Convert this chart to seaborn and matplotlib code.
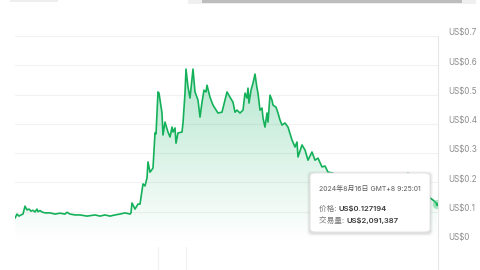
import numpy as np
import pandas as pd
import matplotlib
matplotlib.use("Agg")
import matplotlib.pyplot as plt
import seaborn as sns
from matplotlib.patches import FancyBboxPatch, Rectangle
from matplotlib.lines import Line2D
from matplotlib.transforms import ScaledTranslation
from matplotlib.colors import LinearSegmentedColormap

# ---- data (time index, price in US$) ----
t = [0, 2, 4, 6, 8, 10, 12, 14, 16, 18,
     20, 22, 23, 25, 27, 30, 35, 40, 45, 50,
     52, 55, 60, 65, 72, 80, 85, 90, 95, 100,
     105, 110, 115, 116, 117, 120, 123, 125, 128, 130,
     132, 133, 135, 138, 140, 141, 143, 144, 147, 148,
     150, 153, 155, 157, 158, 160, 161, 163, 167, 168,
     170, 171, 173, 175, 178, 180, 183, 185, 187, 189,
     191, 192, 195, 198, 203, 207, 212, 215, 218, 220,
     222, 225, 228, 230, 232, 233, 234, 236, 238, 240,
     242, 243, 245, 247, 248, 250, 252, 253, 255, 257,
     258, 261, 263, 265, 267, 270, 273, 277, 280, 282,
     283, 287, 290, 293, 297, 300, 303, 307, 310, 313,
     318, 323, 328, 333, 338, 343, 348, 353, 358, 363,
     368, 373, 378, 383, 388, 393, 397, 402, 407, 411,
     415, 418, 422]
price = [0.078, 0.092, 0.085, 0.089, 0.092, 0.119, 0.106, 0.109, 0.102, 0.105,
         0.099, 0.109, 0.100, 0.104, 0.099, 0.096, 0.096, 0.092, 0.095, 0.092,
         0.098, 0.092, 0.089, 0.089, 0.085, 0.089, 0.085, 0.089, 0.085, 0.089,
         0.092, 0.096, 0.092, 0.096, 0.130, 0.109, 0.126, 0.126, 0.195, 0.188,
         0.215, 0.270, 0.235, 0.249, 0.369, 0.366, 0.509, 0.505, 0.437, 0.362,
         0.406, 0.372, 0.355, 0.389, 0.372, 0.386, 0.334, 0.369, 0.372, 0.403,
         0.505, 0.587, 0.526, 0.488, 0.587, 0.509, 0.481, 0.423, 0.474, 0.515,
         0.509, 0.532, 0.491, 0.464, 0.437, 0.440, 0.509, 0.491, 0.474, 0.440,
         0.447, 0.437, 0.447, 0.505, 0.488, 0.522, 0.471, 0.515, 0.539, 0.570,
         0.522, 0.505, 0.447, 0.454, 0.420, 0.389, 0.437, 0.406, 0.498, 0.481,
         0.464, 0.457, 0.437, 0.413, 0.396, 0.403, 0.389, 0.345, 0.321, 0.338,
         0.287, 0.328, 0.311, 0.276, 0.304, 0.276, 0.283, 0.253, 0.256, 0.235,
         0.232, 0.215, 0.205, 0.210, 0.195, 0.200, 0.190, 0.195, 0.185, 0.190,
         0.180, 0.190, 0.195, 0.200, 0.210, 0.232, 0.200, 0.185, 0.170, 0.160,
         0.147, 0.140, 0.127]
yticks = [0, 0.1, 0.2, 0.3, 0.4, 0.5, 0.6, 0.7]
ytick_labels = ["US$0", "US$0.1", "US$0.2", "US$0.3", "US$0.4", "US$0.5", "US$0.6", "US$0.7"]
tooltip_date = "2024年8月16日 GMT+8 9:25:01"
tooltip_price = "US$0.127194"
tooltip_volume = "US$2,091,387"

df = pd.DataFrame({"t": t, "price": price})

sns.set_theme(style="white")
plt.rcParams["font.family"] = ["Inter", "Noto Sans CJK SC", "DejaVu Sans"]

W, H = 480, 270
fig = plt.figure(figsize=(W / 100, H / 100), dpi=100)
fig.patch.set_facecolor("white")

def fx(px):
    return px / W

def fy(py):
    return 1 - py / H

ax = fig.add_axes([fx(15), fy(241), fx(438) - fx(15), fy(36) - fy(241)])
ax.set_facecolor("none")

line_color = "#14b15a"

# gradient fill under the curve
xmax = 423
poly = ax.fill_between(df["t"], df["price"], 0, color="none", lw=0)
grad = np.linspace(0, 1, 256).reshape(-1, 1)
cmap = LinearSegmentedColormap.from_list(
    "g", [(0.086, 0.70, 0.40, 0.0), (0.086, 0.70, 0.40, 0.32)])
im = ax.imshow(grad, cmap=cmap, aspect="auto", origin="lower",
               extent=[0, xmax, 0, 0.6], zorder=1)
path = poly.get_paths()[0]
im.set_clip_path(path, transform=ax.transData)

sns.lineplot(data=df, x="t", y="price", ax=ax, color=line_color, linewidth=1.2,
             zorder=3, legend=False)

# end marker
ax.scatter([t[-1]], [price[-1]], s=45, color="#3cc878", alpha=0.45, lw=0, zorder=4)
ax.scatter([t[-1]], [price[-1]], s=6, color=line_color, lw=0, zorder=5)

ax.set_xlim(0, xmax)
ax.set_ylim(0, 0.7)
ax.set_xlabel("")
ax.set_ylabel("")
ax.set_xticks([])
ax.set_yticks(yticks)
ax.set_yticklabels(ytick_labels)
ax.yaxis.tick_right()
ax.tick_params(axis="y", length=0, pad=7.2, labelsize=5.8, labelcolor="#8c8c8c")
for lab in ax.get_yticklabels():
    lab.set_transform(lab.get_transform() + ScaledTranslation(0, 3 / 72, fig.dpi_scale_trans))
ax.grid(axis="y", color="#f2f2f2", lw=0.8)
ax.set_axisbelow(True)
for s in ax.spines.values():
    s.set_visible(False)

# right border line
fig.add_artist(Line2D([fx(438), fx(438)], [fy(36), fy(270)], color="#e6e6e6", lw=0.8))
# bottom separators
for px in (158, 186):
    fig.add_artist(Line2D([fx(px), fx(px)], [fy(247), fy(270)], color="#f0f0f0", lw=0.8))

# top UI remnants
fig.add_artist(Rectangle((fx(188), fy(4)), fx(476) - fx(188), 4 / H, facecolor="#f0f0f0",
                         edgecolor="none"))
fig.add_artist(Rectangle((fx(202), fy(3)), fx(462) - fx(202), 3 / H, facecolor="#bdbdbd",
                         edgecolor="none"))
fig.add_artist(Rectangle((fx(10), fy(2)), fx(58) - fx(10), 2 / H, facecolor="#eeeeee",
                         edgecolor="none"))

# tooltip
bx0, by0, bx1, by1 = 310, 173, 430, 232
for i, a in enumerate([0.05, 0.04, 0.03]):
    d = i + 1
    fig.add_artist(FancyBboxPatch((fx(bx0 - d), fy(by1 + d + 1)), fx(bx1 - bx0 + 2 * d),
                                  (by1 - by0 + 2 * d) / H,
                                  boxstyle="round,pad=0,rounding_size=0.012",
                                  facecolor=(0, 0, 0, a), edgecolor="none", zorder=9))
fig.add_artist(FancyBboxPatch((fx(bx0), fy(by1)), fx(bx1 - bx0), (by1 - by0) / H,
                              boxstyle="round,pad=0,rounding_size=0.012",
                              facecolor="white", edgecolor="#e3e3e3", lw=0.7, zorder=10))
fam = ["Inter", "Noto Sans CJK SC", "DejaVu Sans"]
fig.text(fx(319), fy(188), tooltip_date, fontsize=5.0, color="#5a5a5a", va="center",
         ha="left", family=fam, zorder=11)
t1 = fig.text(fx(319), fy(208), "价格: ", fontsize=5.5, color="#777777", va="center",
              ha="left", family=fam, zorder=11)
t2 = fig.text(fx(319), fy(220), "交易量: ", fontsize=5.5, color="#777777", va="center",
              ha="left", family=fam, zorder=11)
fig.canvas.draw()
r = fig.canvas.get_renderer()
w1 = t1.get_window_extent(r).x1
w2 = t2.get_window_extent(r).x1
fig.text(w1 / W, fy(208), tooltip_price, fontsize=5.5, color="#3a3a3a", va="center",
         ha="left", family=fam, fontweight="semibold", zorder=11)
fig.text(w2 / W, fy(220), tooltip_volume, fontsize=5.5, color="#3a3a3a", va="center",
         ha="left", family=fam, fontweight="semibold", zorder=11)

fig.savefig("out.png", dpi=100, facecolor="white")
